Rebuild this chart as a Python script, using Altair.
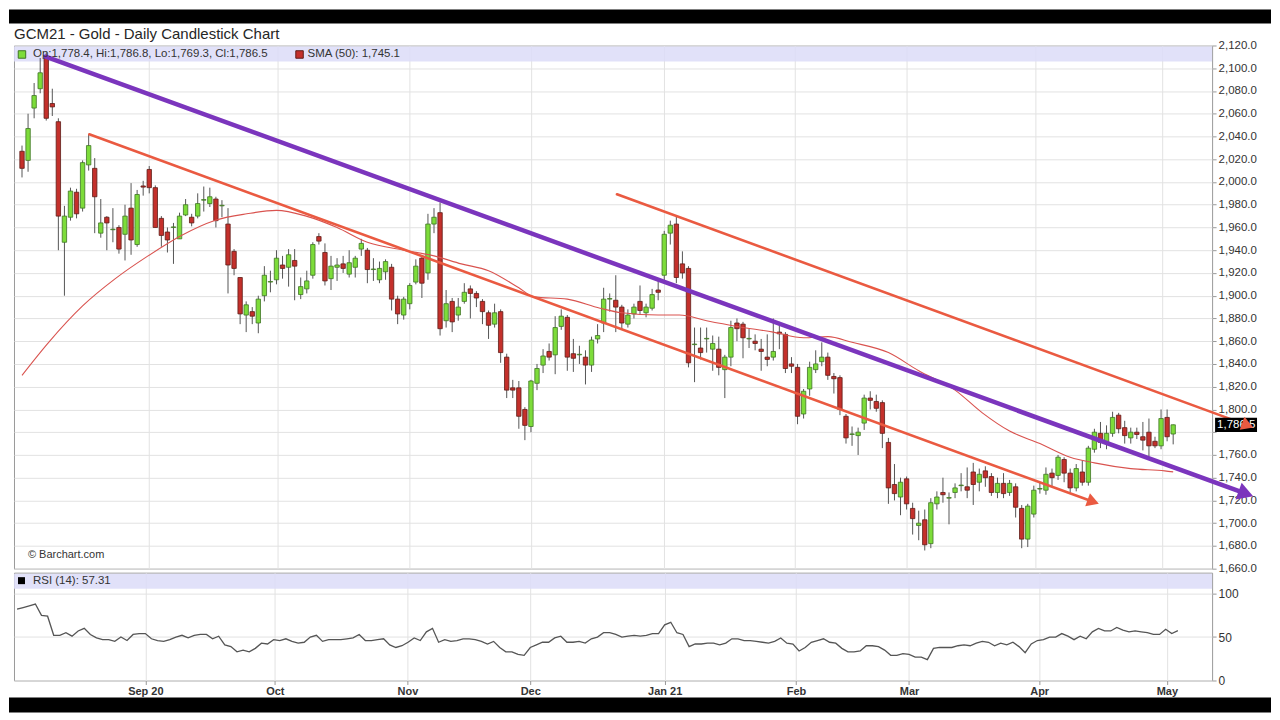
import altair as alt
import pandas as pd

# ---------------- data ----------------
title_text = "GCM21 - Gold - Daily Candlestick Chart"
month_idx = [21, 42.2, 63.9, 84, 106, 127.5, 146, 167.3, 188.2]
month_lbl = ["Sep 20", "Oct", "Nov", "Dec", "Jan 21", "Feb", "Mar", "Apr", "May"]
price_ticks = list(range(1660, 2121, 20))
rsi_ticks = [0, 50, 100]

opens = [2027, 2019, 2065, 2082, 2109, 2069, 2053, 1947, 1969, 1991,
         1977, 2015, 2012, 1955, 1969, 1958, 1960, 1954, 1977, 1945,
         1996.5, 2011, 1995, 1968, 1956, 1960, 1950, 1971, 1969, 1970,
         1984, 1981, 1985, 1979, 1963, 1939, 1916, 1883, 1886, 1876,
         1900, 1912, 1914, 1927, 1925, 1931, 1901, 1906, 1918, 1952,
         1938, 1915, 1925, 1928, 1919, 1925, 1941, 1940, 1923, 1914,
         1921, 1925, 1897, 1883, 1893, 1912, 1933, 1920, 1963, 1973,
         1878, 1895, 1883, 1895, 1906, 1902, 1895, 1885, 1875, 1886,
         1846, 1819, 1819, 1800, 1785, 1823, 1839, 1851, 1848, 1873,
         1881, 1849, 1848, 1846, 1839, 1862, 1876, 1897, 1896, 1890,
         1875, 1884, 1895, 1885, 1889, 1905, 1918, 1955, 1963, 1928,
         1924, 1857, 1854, 1862, 1853, 1853, 1835, 1846, 1876, 1875,
         1862, 1860, 1853, 1846, 1846, 1868, 1866, 1840, 1837, 1796,
         1818, 1835, 1842, 1846, 1829, 1828, 1794, 1778, 1777, 1788,
         1810, 1807, 1806, 1771, 1734, 1723, 1739, 1713, 1698, 1703,
         1682, 1717, 1727, 1722, 1727, 1733, 1732, 1745, 1736, 1746,
         1741, 1727, 1735, 1727, 1732, 1713, 1686, 1708, 1730, 1729,
         1744, 1742, 1756, 1744, 1731, 1745, 1736, 1765, 1779, 1770,
         1779, 1795, 1784, 1775, 1780, 1776, 1780, 1772, 1768, 1793,
         1778.4]
highs = [2032, 2060, 2087, 2109, 2114, 2082, 2056, 1979, 1995, 1994,
         2019, 2042, 2021, 1985, 1970, 1977, 1962, 1980, 1999, 1993,
         2001, 2014, 1997, 1970, 1960, 1964, 1973, 1985, 1972, 1990,
         1996, 1995, 1987, 1984, 1977, 1941, 1916, 1895, 1890, 1900,
         1926, 1922, 1940, 1935, 1941, 1941, 1916, 1922, 1947, 1955,
         1946, 1935, 1933, 1935, 1940, 1935, 1950, 1942, 1933, 1930,
         1932, 1928, 1900, 1899, 1911, 1932, 1935, 1972, 1977, 1982,
         1905, 1898, 1898, 1911, 1909, 1904, 1897, 1887, 1893, 1888,
         1849, 1826, 1825, 1802, 1826, 1840, 1853, 1858, 1882, 1888,
         1883, 1862, 1856, 1852, 1864, 1875, 1907, 1902, 1918, 1892,
         1888, 1893, 1909, 1893, 1906, 1914, 1957, 1966, 1970, 1939,
         1926, 1872, 1872, 1872, 1865, 1864, 1848, 1878, 1880, 1877,
         1871, 1866, 1862, 1866, 1880, 1877, 1868, 1846, 1840, 1818,
         1842, 1852, 1859, 1850, 1832, 1830, 1796, 1785, 1784, 1813,
         1816, 1813, 1808, 1775, 1752, 1740, 1741, 1718, 1711, 1712,
         1722, 1728, 1740, 1727, 1735, 1744, 1749, 1753, 1748, 1750,
         1744, 1740, 1744, 1738, 1735, 1716, 1717, 1733, 1736, 1749,
         1748, 1760, 1758, 1748, 1752, 1755, 1768, 1783, 1789, 1786,
         1798, 1797, 1790, 1784, 1784, 1789, 1792, 1776, 1800, 1800,
         1786.8]
lows = [2004, 2009, 2056, 2078, 2054, 2058, 1940, 1900, 1966, 1968,
        1974, 2010, 1955, 1951, 1940, 1947, 1937, 1931, 1936, 1943,
        1988, 1990, 1960, 1943, 1938, 1928, 1950, 1970, 1961, 1968,
        1974, 1978, 1960, 1969, 1902, 1918, 1875, 1868, 1875, 1867,
        1895, 1903, 1910, 1915, 1908, 1896, 1897, 1902, 1915, 1945,
        1909, 1905, 1913, 1920, 1916, 1916, 1935, 1911, 1913, 1911,
        1914, 1887, 1875, 1879, 1888, 1910, 1898, 1914, 1955, 1865,
        1872, 1868, 1878, 1893, 1880, 1890, 1875, 1862, 1872, 1841,
        1810, 1810, 1783, 1773, 1780, 1817, 1832, 1843, 1831, 1870,
        1834, 1833, 1840, 1822, 1833, 1858, 1868, 1886, 1868, 1870,
        1872, 1880, 1884, 1881, 1887, 1896, 1913, 1945, 1911, 1915,
        1837, 1824, 1844, 1850, 1834, 1830, 1810, 1838, 1860, 1845,
        1854, 1852, 1834, 1838, 1843, 1853, 1832, 1832, 1787, 1792,
        1812, 1832, 1838, 1826, 1814, 1795, 1770, 1768, 1760, 1782,
        1800, 1798, 1766, 1717, 1720, 1707, 1712, 1690, 1685, 1676,
        1678, 1712, 1718, 1699, 1722, 1728, 1722, 1716, 1728, 1732,
        1724, 1722, 1722, 1724, 1705, 1678, 1679, 1705, 1726, 1725,
        1732, 1738, 1736, 1727, 1728, 1733, 1733, 1762, 1766, 1765,
        1776, 1779, 1770, 1770, 1774, 1764, 1759, 1766, 1765, 1772,
        1769.3]
closes = [2012, 2047, 2076, 2096, 2056, 2066, 1970, 1970, 1992, 1972,
          2017, 2032, 1987, 1964, 1964, 1958.5, 1941, 1970, 1949, 1989,
          1995.5, 1995, 1960, 1953, 1949, 1960.5, 1970, 1980, 1964, 1981,
          1984.5, 1987, 1966, 1979.5, 1927, 1924, 1884, 1892, 1882, 1897,
          1918, 1912.5, 1933, 1924, 1936, 1926, 1908, 1913, 1945, 1948,
          1913, 1926, 1927, 1924, 1929, 1933, 1946, 1923, 1923.5, 1924,
          1930, 1897, 1884, 1897, 1909, 1926, 1911, 1963, 1969, 1871,
          1893, 1877, 1890, 1903, 1902, 1898, 1886, 1874, 1885, 1850,
          1817, 1817, 1794, 1786, 1825, 1836, 1847, 1846, 1872, 1882,
          1846, 1845, 1848.5, 1839, 1861, 1865, 1897, 1897.5, 1890, 1876,
          1883, 1890, 1887, 1890, 1901, 1903, 1954, 1962, 1916, 1920,
          1841, 1857.5, 1850, 1862.5, 1858, 1837, 1846, 1872, 1871, 1863,
          1862.5, 1858, 1851, 1844, 1851, 1866.5, 1836, 1838, 1794, 1816,
          1837, 1840, 1846, 1830, 1827, 1800, 1775, 1778.5, 1780, 1810,
          1808, 1801, 1779, 1731, 1726, 1736, 1717, 1704, 1700, 1681,
          1718, 1723, 1725, 1722.5, 1731, 1733.5, 1729, 1734, 1743, 1740,
          1727, 1735, 1726, 1735, 1714, 1686, 1715, 1729, 1730.5, 1743,
          1740, 1758, 1744, 1731, 1748, 1736, 1766, 1780, 1771, 1779,
          1793, 1783, 1777, 1780, 1778, 1773, 1768, 1768, 1792, 1776,
          1786.5]
rsi = [82, 84, 86, 88, 75, 74, 52, 52, 55, 51,
       57, 60, 53, 49, 47, 47, 45, 50, 46, 53,
       54, 54, 48, 46, 45, 47, 50, 52, 49, 52,
       53, 53, 48, 51, 41, 39, 33, 35, 33, 37,
       43, 42, 47, 46, 48, 45, 43, 44, 50, 52,
       45, 47, 47, 47, 48, 49, 53, 46, 46, 47,
       48, 41, 38, 40, 44, 49, 46, 56, 60, 44,
       47, 45, 46, 48, 48, 47, 45, 42, 45, 38,
       33, 33, 30, 29, 38, 41, 44, 44, 49, 51,
       44, 44, 45, 43, 48, 50, 55, 55, 53, 50,
       51, 52, 51, 52, 54, 54, 64, 67, 55, 53,
       39, 42, 42, 43, 43, 41, 43, 48, 48, 46,
       46, 45, 44, 43, 45, 49, 43, 42, 34, 38,
       44, 46, 48, 44, 43, 37, 33, 33, 34, 40,
       40, 39, 35, 29, 29, 31, 30, 27, 27, 24,
       37, 38, 38, 38, 40, 41, 40, 43, 45, 44,
       40, 43, 41, 44, 39, 32, 42, 46, 47, 50,
       50, 54, 51, 47, 51, 48, 56, 60, 57, 57,
       61, 58, 56, 57, 56, 55, 53, 53, 59, 54,
       57.31]
sma_idx = [0, 4.4, 10, 15.4, 20.8, 26.3, 31.7, 37.1, 42, 46.9,
           52, 57, 63, 68, 72.5, 77, 82, 84.5, 90, 95.4,
           99, 105, 108.5, 113, 118, 124, 129, 133, 137, 143,
           148, 154, 158.5, 163, 168, 173, 177, 183, 188.6, 190]
sma_val = [1830, 1859, 1891, 1915, 1935, 1953, 1966, 1972, 1975, 1970,
           1960, 1947, 1940, 1935, 1928, 1922, 1907, 1899, 1897, 1889,
           1885, 1883, 1883, 1878, 1873, 1868, 1863, 1864, 1859, 1850,
           1834, 1817, 1797, 1781, 1770, 1758, 1753, 1748, 1746, 1745.1]
# drawn trend lines (purple, lower red, upper red): start / end (index, price)
trend_x1 = [3.9, 11.1, 98.2]
trend_y1 = [2110.3, 2041.9, 1989.2]
trend_x2 = [202.0, 176.8, 202.3]
trend_y2 = [1725.9, 1718.8, 1786.0]
hidden_price_label = 1780  # covered by the last-price tag in the original

# ---------------- frames ----------------
n = len(closes)
df = pd.DataFrame({"i": list(range(n)), "open": opens, "high": highs,
                   "low": lows, "close": closes, "rsi": rsi})
sma_df = pd.DataFrame({"si": sma_idx, "sv": sma_val})
trend_df = pd.DataFrame({"k": [0, 1, 2], "x1": trend_x1, "y1": trend_y1,
                         "x2": trend_x2, "y2": trend_y2})
one = pd.DataFrame({"a": [0]})
last_df = pd.DataFrame({"price": [closes[-1]], "label": [f"{closes[-1]:,.1f}"]})

leg_ohlc = f"Op:{opens[-1]:,.1f}, Hi:{highs[-1]:,.1f}, Lo:{lows[-1]:,.1f}, Cl:{closes[-1]:,.1f}"
leg_sma = f"SMA (50): {sma_val[-1]:,.1f}"
leg_rsi = f"RSI (14): {rsi[-1]:.2f}"

# ---------------- style ----------------
FONT = "Liberation Sans"
TXT = "#333333"
GRID = "#e2e2e2"
BAND = "#dcdcf8"
UP, UPS = "#7ddc3a", "#3f7524"
DN, DNS = "#c4302b", "#5e1d18"
W, HP, HR = 1200, 524, 108

xscale = alt.Scale(domain=[-0.5, 195.6], nice=False, zero=False)
pscale = alt.Scale(domain=[1660, 2120], nice=False, zero=False)
rscale = alt.Scale(domain=[0, 124.1], nice=False, zero=False)

x_axis_top = alt.Axis(values=month_idx, grid=True, gridColor=GRID, labels=False,
                      ticks=False, domain=False, title=None)
label_expr = ("[" + ",".join(f"'{m}'" for m in month_lbl) + "][indexof(["
              + ",".join(str(v) for v in month_idx) + "], datum.value)]")
x_axis_bot = alt.Axis(values=month_idx, grid=True, gridColor=GRID, labelExpr=label_expr,
                      labelFontWeight="bold", labelFontSize=11, labelColor=TXT,
                      labelFont=FONT, tickSize=4, tickColor="#999999", domain=False,
                      title=None, labelPadding=1, labelFlush=False)
p_axis = alt.Axis(orient="right", values=price_ticks,
                  labelExpr=f"datum.value == {hidden_price_label} ? '' : format(datum.value, ',.1f')",
                  grid=True, gridColor=GRID, tickSize=4, tickColor="#999999", domain=False,
                  title=None, labelFontSize=11.5, labelColor=TXT, labelFont=FONT,
                  labelPadding=2, labelFlush=False)
r_axis = alt.Axis(orient="right", values=rsi_ticks, grid=True, gridColor=GRID,
                  tickSize=4, tickColor="#999999", domain=False, title=None,
                  labelFontSize=12, labelColor=TXT, labelFont=FONT, labelPadding=2,
                  labelFlush=False)


def XT(f):
    return alt.X(f"{f}:Q", scale=xscale, axis=x_axis_top)


def XB(f):
    return alt.X(f"{f}:Q", scale=xscale, axis=x_axis_bot)


def YP(f):
    return alt.Y(f"{f}:Q", scale=pscale, axis=p_axis)


# ---------------- price panel ----------------
band = alt.Chart(one).mark_rect(color=BAND, opacity=0.85).encode(
    x=alt.value(0), x2=alt.value(W), y=alt.value(1), y2=alt.value(16))
wicks = alt.Chart(df).mark_rule(color="#555555", strokeWidth=1).encode(
    x=XT("i"), y=YP("low"), y2="high")
up_cond = "datum.close >= datum.open"
bodies = alt.Chart(df).mark_bar(width=4.4, strokeWidth=0.8).encode(
    x=XT("i"), y=YP("open"), y2="close",
    fill=alt.condition(up_cond, alt.value(UP), alt.value(DN)),
    stroke=alt.condition(up_cond, alt.value(UPS), alt.value(DNS)))
sma = alt.Chart(sma_df).mark_line(color="#d9534f", strokeWidth=1.1,
                                  interpolate="monotone").encode(x=XT("si"), y=YP("sv"))

styles = [("#7b35bd", 4.5, 320), ("#ea5a41", 2.6, 190), ("#ea5a41", 2.6, 190)]
lines, arrows = [], []
for k, (col, sw, asz) in enumerate(styles):
    src = alt.Chart(trend_df).transform_filter(alt.datum.k == k)
    lines.append(src.mark_rule(color=col, strokeWidth=sw, strokeCap="round").encode(
        x=XT("x1"), x2="x2", y=YP("y1"), y2="y2"))
    arrows.append(src.mark_point(shape="triangle-right", filled=True, size=asz, angle=20,
                                 color=col, opacity=1).encode(x=XT("x2"), y=YP("y2")))

tag = alt.Chart(last_df).transform_calculate(
    thi="datum.price + 6.3", tlo="datum.price - 6.3").mark_rect(color="black").encode(
    x=alt.value(W + 3), x2=alt.value(W + 45), y=YP("thi"), y2="tlo")
tag_txt = alt.Chart(last_df).mark_text(color="white", fontSize=11.5, font=FONT,
                                       align="left", baseline="middle").encode(
    x=alt.value(W + 5), y=YP("price"), text="label:N")

leg_sq1 = alt.Chart(one).mark_square(size=56, color=UP, stroke=UPS, strokeWidth=1,
                                     opacity=1).encode(x=alt.value(8), y=alt.value(9))
leg_t1 = alt.Chart(one).mark_text(align="left", baseline="middle", fontSize=11.5,
                                  font=FONT, color=TXT).encode(
    x=alt.value(19), y=alt.value(9), text=alt.value(leg_ohlc))
leg_sq2 = alt.Chart(one).mark_square(size=56, color=DN, stroke=DNS, strokeWidth=1,
                                     opacity=1).encode(x=alt.value(286), y=alt.value(9))
leg_t2 = alt.Chart(one).mark_text(align="left", baseline="middle", fontSize=11.5,
                                  font=FONT, color=TXT).encode(
    x=alt.value(294), y=alt.value(9), text=alt.value(leg_sma))
credit = alt.Chart(one).mark_text(align="left", baseline="middle", fontSize=11,
                                  font=FONT, color=TXT).encode(
    x=alt.value(14), y=alt.value(510), text=alt.value("© Barchart.com"))
title = alt.Chart(one).mark_text(align="left", baseline="alphabetic", fontSize=15,
                                 font=FONT, color="#262626").encode(
    x=alt.value(0), y=alt.value(-7), text=alt.value(title_text))
bar_top = alt.Chart(one).mark_rect(color="black").encode(
    x=alt.value(-5), x2=alt.value(1259), y=alt.value(-36), y2=alt.value(-22))

price = alt.layer(band, wicks, bodies, sma, lines[1], lines[2], lines[0], tag, tag_txt,
                  arrows[1], arrows[2], arrows[0], leg_sq1, leg_t1, leg_sq2, leg_t2,
                  credit, title, bar_top).properties(width=W, height=HP)

# ---------------- RSI panel ----------------
r_band = alt.Chart(one).mark_rect(color=BAND, opacity=0.85).encode(
    x=alt.value(0), x2=alt.value(W), y=alt.value(1), y2=alt.value(16))
r_line = alt.Chart(df).mark_line(color="#555555", strokeWidth=1.3).encode(
    x=XB("i"), y=alt.Y("rsi:Q", scale=rscale, axis=r_axis))
r_sq = alt.Chart(one).mark_square(size=49, color="black", opacity=1).encode(
    x=alt.value(7.5), y=alt.value(8))
r_txt = alt.Chart(one).mark_text(align="left", baseline="middle", fontSize=11.5,
                                 font=FONT, color=TXT).encode(
    x=alt.value(19), y=alt.value(8), text=alt.value(leg_rsi))
bar_bot = alt.Chart(one).mark_rect(color="black").encode(
    x=alt.value(-5), x2=alt.value(1259), y=alt.value(125), y2=alt.value(140))

rsi_panel = alt.layer(r_band, r_line, r_sq, r_txt, bar_bot).properties(width=W, height=HR)

chart = alt.vconcat(price, rsi_panel, spacing=4, bounds="flush").properties(
    padding=0, background="white"
).configure(font=FONT).configure_view(stroke="#9a9a9a", strokeWidth=1)

chart.save("out.html", embed_options={"renderer": "svg", "actions": False})
